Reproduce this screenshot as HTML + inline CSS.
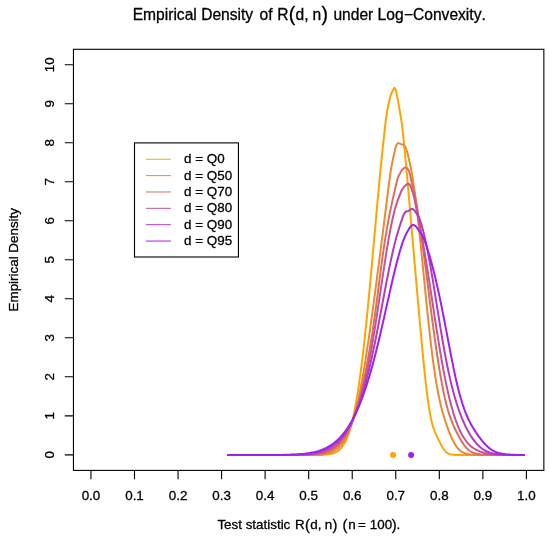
<!DOCTYPE html>
<html><head><meta charset="utf-8"><title>Empirical Density</title>
<style>html,body{margin:0;padding:0;background:#fff}svg{display:block}text{font-family:"Liberation Sans",Arial,Helvetica,sans-serif;fill:#000;stroke:#000;stroke-width:0.3}</style></head>
<body>
<svg width="550" height="538" viewBox="0 0 550 538">
<rect x="0" y="0" width="550" height="538" fill="#fff"/>
<path d="M227.0,455.0 L228.0,455.0 L229.0,455.0 L230.0,455.0 L231.0,455.0 L232.0,455.0 L233.0,455.0 L234.0,455.0 L235.0,455.0 L236.0,455.0 L237.0,455.0 L238.0,455.0 L239.0,455.0 L240.0,455.0 L241.0,455.0 L242.0,455.0 L243.0,455.0 L244.0,455.0 L245.0,455.0 L246.0,455.0 L247.0,455.0 L248.0,455.0 L249.0,455.0 L250.0,455.0 L251.0,455.0 L252.0,455.0 L253.0,455.0 L254.0,455.0 L255.0,455.0 L256.0,455.0 L257.0,455.0 L258.0,455.0 L259.0,455.0 L260.0,455.0 L261.0,455.0 L262.0,455.0 L263.0,455.0 L264.0,455.0 L265.0,455.0 L266.0,455.0 L267.0,455.0 L268.0,455.0 L269.0,455.0 L270.0,455.0 L271.0,455.0 L272.0,455.0 L273.0,455.0 L274.0,455.0 L275.0,455.0 L276.0,455.0 L277.0,455.0 L278.0,455.0 L279.0,455.0 L280.0,455.0 L281.0,455.0 L282.0,455.0 L283.0,455.0 L284.0,455.0 L285.0,455.0 L286.0,455.0 L287.0,455.0 L288.0,455.0 L289.0,455.0 L290.0,455.0 L291.0,455.0 L292.0,455.0 L293.0,455.0 L294.0,455.0 L295.0,455.0 L296.0,455.0 L297.0,455.0 L298.0,455.0 L299.0,455.0 L300.0,455.0 L301.0,455.0 L302.0,455.0 L303.0,455.0 L304.0,455.0 L305.0,455.0 L306.0,455.0 L307.0,455.0 L308.0,455.0 L309.0,455.0 L310.0,455.0 L311.0,455.0 L312.0,455.0 L313.0,455.0 L314.0,455.0 L315.0,455.0 L316.0,455.0 L317.0,455.0 L318.0,454.9 L319.0,454.9 L320.0,454.9 L321.0,454.9 L322.0,454.9 L323.0,454.8 L324.0,454.8 L325.0,454.7 L326.0,454.6 L327.0,454.5 L328.0,454.4 L329.0,454.3 L330.0,454.1 L331.0,453.9 L332.0,453.7 L333.0,453.4 L334.0,453.0 L335.0,452.6 L336.0,452.1 L337.0,451.6 L338.0,450.9 L339.0,450.1 L340.0,449.2 L341.0,448.2 L342.0,447.0 L343.0,445.6 L344.0,444.0 L345.0,442.3 L346.0,440.2 L347.0,438.0 L348.0,435.4 L349.0,432.6 L350.0,429.4 L351.0,426.0 L352.0,422.1 L353.0,417.9 L354.0,413.3 L355.0,408.3 L356.0,402.9 L357.0,397.1 L358.0,390.8 L359.0,384.2 L360.0,377.1 L361.0,369.5 L362.0,361.6 L363.0,353.2 L364.0,344.5 L365.0,335.4 L366.0,325.9 L367.0,316.1 L368.0,306.0 L369.0,295.6 L370.0,285.0 L371.0,274.2 L372.0,263.2 L373.0,252.2 L374.0,241.0 L375.0,229.8 L376.0,218.6 L377.0,207.5 L378.0,196.5 L379.0,185.7 L380.0,175.1 L381.0,164.9 L382.0,154.9 L383.0,145.5 L384.0,136.3 L385.0,127.1 L386.0,118.7 L387.0,111.7 L388.0,106.4 L389.0,102.1 L390.0,97.8 L391.0,94.4 L392.0,92.0 L393.0,90.2 L394.0,88.1 L395.0,88.3 L396.0,90.6 L397.0,95.4 L398.0,101.1 L399.0,106.7 L400.0,112.2 L401.0,118.1 L402.0,124.9 L403.0,133.9 L404.0,143.7 L405.0,153.9 L406.0,164.5 L407.0,175.5 L408.0,186.8 L409.0,198.2 L410.0,209.7 L411.0,221.3 L412.0,232.8 L413.0,244.4 L414.0,255.9 L415.0,267.3 L416.0,278.7 L417.0,290.1 L418.0,301.4 L419.0,312.7 L420.0,323.9 L421.0,334.9 L422.0,345.7 L423.0,356.2 L424.0,366.3 L425.0,376.0 L426.0,385.0 L427.0,393.3 L428.0,400.9 L429.0,407.7 L430.0,413.5 L431.0,418.6 L432.0,422.9 L433.0,426.4 L434.0,429.5 L435.0,432.1 L436.0,434.4 L437.0,436.5 L438.0,438.6 L439.0,440.6 L440.0,442.6 L441.0,444.6 L442.0,446.4 L443.0,448.1 L444.0,449.6 L445.0,450.9 L446.0,451.9 L447.0,452.8 L448.0,453.4 L449.0,453.9 L450.0,454.2 L451.0,454.4 L452.0,454.6 L453.0,454.7 L454.0,454.8 L455.0,454.9 L456.0,454.9 L457.0,454.9 L458.0,454.9 L459.0,455.0 L460.0,455.0 L461.0,455.0 L462.0,455.0 L463.0,455.0 L464.0,455.0 L465.0,455.0 L466.0,455.0 L467.0,455.0 L468.0,455.0 L469.0,455.0 L470.0,455.0 L471.0,455.0 L472.0,455.0 L473.0,455.0 L474.0,455.0 L475.0,455.0 L476.0,455.0 L477.0,455.0 L478.0,455.0 L479.0,455.0 L480.0,455.0 L481.0,455.0 L482.0,455.0 L483.0,455.0 L484.0,455.0 L485.0,455.0 L486.0,455.0 L487.0,455.0 L488.0,455.0 L489.0,455.0 L490.0,455.0 L491.0,455.0 L492.0,455.0 L493.0,455.0 L494.0,455.0 L495.0,455.0 L496.0,455.0 L497.0,455.0 L498.0,455.0 L499.0,455.0 L500.0,455.0 L501.0,455.0 L502.0,455.0 L503.0,455.0 L504.0,455.0 L505.0,455.0 L506.0,455.0 L507.0,455.0 L508.0,455.0 L509.0,455.0 L510.0,455.0 L511.0,455.0 L512.0,455.0 L513.0,455.0 L514.0,455.0 L515.0,455.0 L516.0,455.0 L517.0,455.0 L518.0,455.0 L519.0,455.0 L520.0,455.0 L521.0,455.0 L522.0,455.0 L523.0,455.0 L524.0,455.0 L525.0,455.0" fill="none" stroke="#FFA500" stroke-width="2" stroke-linejoin="round" stroke-linecap="butt"/>
<path d="M227.0,455.0 L228.0,455.0 L229.0,455.0 L230.0,455.0 L231.0,455.0 L232.0,455.0 L233.0,455.0 L234.0,455.0 L235.0,455.0 L236.0,455.0 L237.0,455.0 L238.0,455.0 L239.0,455.0 L240.0,455.0 L241.0,455.0 L242.0,455.0 L243.0,455.0 L244.0,455.0 L245.0,455.0 L246.0,455.0 L247.0,455.0 L248.0,455.0 L249.0,455.0 L250.0,455.0 L251.0,455.0 L252.0,455.0 L253.0,455.0 L254.0,455.0 L255.0,455.0 L256.0,455.0 L257.0,455.0 L258.0,455.0 L259.0,455.0 L260.0,455.0 L261.0,455.0 L262.0,455.0 L263.0,455.0 L264.0,455.0 L265.0,455.0 L266.0,455.0 L267.0,455.0 L268.0,455.0 L269.0,455.0 L270.0,455.0 L271.0,455.0 L272.0,455.0 L273.0,455.0 L274.0,455.0 L275.0,455.0 L276.0,455.0 L277.0,455.0 L278.0,455.0 L279.0,455.0 L280.0,455.0 L281.0,455.0 L282.0,455.0 L283.0,455.0 L284.0,455.0 L285.0,455.0 L286.0,455.0 L287.0,455.0 L288.0,455.0 L289.0,455.0 L290.0,455.0 L291.0,455.0 L292.0,455.0 L293.0,455.0 L294.0,455.0 L295.0,455.0 L296.0,455.0 L297.0,455.0 L298.0,455.0 L299.0,455.0 L300.0,455.0 L301.0,455.0 L302.0,455.0 L303.0,455.0 L304.0,455.0 L305.0,455.0 L306.0,455.0 L307.0,455.0 L308.0,454.9 L309.0,454.9 L310.0,454.9 L311.0,454.9 L312.0,454.9 L313.0,454.9 L314.0,454.8 L315.0,454.8 L316.0,454.8 L317.0,454.7 L318.0,454.6 L319.0,454.6 L320.0,454.5 L321.0,454.4 L322.0,454.3 L323.0,454.2 L324.0,454.1 L325.0,453.9 L326.0,453.7 L327.0,453.5 L328.0,453.3 L329.0,453.0 L330.0,452.7 L331.0,452.3 L332.0,451.9 L333.0,451.5 L334.0,451.0 L335.0,450.4 L336.0,449.7 L337.0,449.0 L338.0,448.2 L339.0,447.3 L340.0,446.3 L341.0,445.2 L342.0,443.9 L343.0,442.6 L344.0,441.1 L345.0,439.4 L346.0,437.6 L347.0,435.7 L348.0,433.5 L349.0,431.2 L350.0,428.7 L351.0,425.9 L352.0,423.0 L353.0,419.8 L354.0,416.5 L355.0,412.8 L356.0,409.0 L357.0,404.9 L358.0,400.5 L359.0,395.9 L360.0,391.1 L361.0,386.0 L362.0,380.6 L363.0,375.0 L364.0,369.2 L365.0,363.1 L366.0,356.9 L367.0,350.4 L368.0,343.7 L369.0,336.8 L370.0,329.8 L371.0,322.6 L372.0,315.3 L373.0,307.9 L374.0,300.4 L375.0,292.9 L376.0,285.3 L377.0,277.6 L378.0,269.9 L379.0,262.3 L380.0,254.6 L381.0,246.9 L382.0,239.1 L383.0,231.3 L384.0,223.4 L385.0,215.5 L386.0,207.4 L387.0,199.4 L388.0,191.4 L389.0,183.5 L390.0,176.1 L391.0,169.2 L392.0,163.6 L393.0,158.9 L394.0,154.4 L395.0,150.0 L396.0,145.9 L397.0,144.1 L398.0,143.2 L399.0,143.2 L400.0,143.7 L401.0,144.2 L402.0,144.4 L403.0,144.5 L404.0,145.0 L405.0,146.3 L406.0,148.6 L407.0,151.5 L408.0,155.1 L409.0,159.6 L410.0,164.0 L411.0,168.6 L412.0,174.1 L413.0,180.3 L414.0,187.2 L415.0,194.5 L416.0,202.5 L417.0,210.8 L418.0,219.6 L419.0,228.8 L420.0,238.3 L421.0,248.1 L422.0,258.0 L423.0,268.1 L424.0,278.2 L425.0,288.2 L426.0,298.2 L427.0,308.0 L428.0,317.6 L429.0,327.0 L430.0,336.0 L431.0,344.6 L432.0,352.8 L433.0,360.5 L434.0,367.8 L435.0,374.6 L436.0,380.9 L437.0,386.8 L438.0,392.2 L439.0,397.2 L440.0,401.7 L441.0,406.0 L442.0,409.9 L443.0,413.6 L444.0,417.0 L445.0,420.2 L446.0,423.3 L447.0,426.2 L448.0,428.9 L449.0,431.6 L450.0,434.0 L451.0,436.4 L452.0,438.6 L453.0,440.7 L454.0,442.6 L455.0,444.3 L456.0,445.9 L457.0,447.3 L458.0,448.5 L459.0,449.5 L460.0,450.5 L461.0,451.2 L462.0,451.9 L463.0,452.5 L464.0,452.9 L465.0,453.3 L466.0,453.6 L467.0,453.8 L468.0,454.1 L469.0,454.2 L470.0,454.4 L471.0,454.5 L472.0,454.6 L473.0,454.6 L474.0,454.7 L475.0,454.8 L476.0,454.8 L477.0,454.8 L478.0,454.9 L479.0,454.9 L480.0,454.9 L481.0,454.9 L482.0,454.9 L483.0,454.9 L484.0,455.0 L485.0,455.0 L486.0,455.0 L487.0,455.0 L488.0,455.0 L489.0,455.0 L490.0,455.0 L491.0,455.0 L492.0,455.0 L493.0,455.0 L494.0,455.0 L495.0,455.0 L496.0,455.0 L497.0,455.0 L498.0,455.0 L499.0,455.0 L500.0,455.0 L501.0,455.0 L502.0,455.0 L503.0,455.0 L504.0,455.0 L505.0,455.0 L506.0,455.0 L507.0,455.0 L508.0,455.0 L509.0,455.0 L510.0,455.0 L511.0,455.0 L512.0,455.0 L513.0,455.0 L514.0,455.0 L515.0,455.0 L516.0,455.0 L517.0,455.0 L518.0,455.0 L519.0,455.0 L520.0,455.0 L521.0,455.0 L522.0,455.0 L523.0,455.0 L524.0,455.0 L525.0,455.0" fill="none" stroke="#EC8A30" stroke-width="2" stroke-linejoin="round" stroke-linecap="butt"/>
<path d="M227.0,455.0 L228.0,455.0 L229.0,455.0 L230.0,455.0 L231.0,455.0 L232.0,455.0 L233.0,455.0 L234.0,455.0 L235.0,455.0 L236.0,455.0 L237.0,455.0 L238.0,455.0 L239.0,455.0 L240.0,455.0 L241.0,455.0 L242.0,455.0 L243.0,455.0 L244.0,455.0 L245.0,455.0 L246.0,455.0 L247.0,455.0 L248.0,455.0 L249.0,455.0 L250.0,455.0 L251.0,455.0 L252.0,455.0 L253.0,455.0 L254.0,455.0 L255.0,455.0 L256.0,455.0 L257.0,455.0 L258.0,455.0 L259.0,455.0 L260.0,455.0 L261.0,455.0 L262.0,455.0 L263.0,455.0 L264.0,455.0 L265.0,455.0 L266.0,455.0 L267.0,455.0 L268.0,455.0 L269.0,455.0 L270.0,455.0 L271.0,455.0 L272.0,455.0 L273.0,455.0 L274.0,455.0 L275.0,455.0 L276.0,455.0 L277.0,455.0 L278.0,455.0 L279.0,455.0 L280.0,455.0 L281.0,455.0 L282.0,455.0 L283.0,455.0 L284.0,455.0 L285.0,455.0 L286.0,455.0 L287.0,455.0 L288.0,455.0 L289.0,455.0 L290.0,455.0 L291.0,455.0 L292.0,455.0 L293.0,455.0 L294.0,455.0 L295.0,455.0 L296.0,455.0 L297.0,455.0 L298.0,455.0 L299.0,454.9 L300.0,454.9 L301.0,454.9 L302.0,454.9 L303.0,454.9 L304.0,454.9 L305.0,454.9 L306.0,454.8 L307.0,454.8 L308.0,454.8 L309.0,454.7 L310.0,454.7 L311.0,454.6 L312.0,454.6 L313.0,454.5 L314.0,454.5 L315.0,454.4 L316.0,454.3 L317.0,454.2 L318.0,454.1 L319.0,453.9 L320.0,453.8 L321.0,453.6 L322.0,453.4 L323.0,453.2 L324.0,453.0 L325.0,452.7 L326.0,452.4 L327.0,452.1 L328.0,451.8 L329.0,451.4 L330.0,450.9 L331.0,450.5 L332.0,449.9 L333.0,449.3 L334.0,448.7 L335.0,448.0 L336.0,447.3 L337.0,446.4 L338.0,445.5 L339.0,444.6 L340.0,443.5 L341.0,442.3 L342.0,441.1 L343.0,439.8 L344.0,438.3 L345.0,436.8 L346.0,435.1 L347.0,433.3 L348.0,431.4 L349.0,429.3 L350.0,427.1 L351.0,424.8 L352.0,422.3 L353.0,419.7 L354.0,416.9 L355.0,413.9 L356.0,410.8 L357.0,407.5 L358.0,404.1 L359.0,400.4 L360.0,396.6 L361.0,392.6 L362.0,388.3 L363.0,384.0 L364.0,379.4 L365.0,374.6 L366.0,369.6 L367.0,364.4 L368.0,359.0 L369.0,353.4 L370.0,347.6 L371.0,341.5 L372.0,335.2 L373.0,328.6 L374.0,321.7 L375.0,314.6 L376.0,307.2 L377.0,299.6 L378.0,291.8 L379.0,284.0 L380.0,276.1 L381.0,268.4 L382.0,260.9 L383.0,253.6 L384.0,246.7 L385.0,240.1 L386.0,233.9 L387.0,228.1 L388.0,222.5 L389.0,217.3 L390.0,212.2 L391.0,207.4 L392.0,202.7 L393.0,198.1 L394.0,193.8 L395.0,189.4 L396.0,185.0 L397.0,180.8 L398.0,177.5 L399.0,175.2 L400.0,173.4 L401.0,171.5 L402.0,170.0 L403.0,168.9 L404.0,168.1 L405.0,167.6 L406.0,167.6 L407.0,168.1 L408.0,169.3 L409.0,171.2 L410.0,174.4 L411.0,179.2 L412.0,183.9 L413.0,187.9 L414.0,191.3 L415.0,195.6 L416.0,200.9 L417.0,206.7 L418.0,212.8 L419.0,219.3 L420.0,226.1 L421.0,233.1 L422.0,240.4 L423.0,247.8 L424.0,255.4 L425.0,263.2 L426.0,271.0 L427.0,278.9 L428.0,286.8 L429.0,294.7 L430.0,302.5 L431.0,310.3 L432.0,318.0 L433.0,325.5 L434.0,332.9 L435.0,340.1 L436.0,347.1 L437.0,353.9 L438.0,360.5 L439.0,366.8 L440.0,372.8 L441.0,378.6 L442.0,384.1 L443.0,389.2 L444.0,394.1 L445.0,398.6 L446.0,402.8 L447.0,406.7 L448.0,410.3 L449.0,413.6 L450.0,416.6 L451.0,419.4 L452.0,422.0 L453.0,424.4 L454.0,426.7 L455.0,428.8 L456.0,430.9 L457.0,432.9 L458.0,434.8 L459.0,436.7 L460.0,438.5 L461.0,440.2 L462.0,441.9 L463.0,443.4 L464.0,444.9 L465.0,446.2 L466.0,447.4 L467.0,448.5 L468.0,449.4 L469.0,450.3 L470.0,451.0 L471.0,451.6 L472.0,452.1 L473.0,452.6 L474.0,453.0 L475.0,453.3 L476.0,453.5 L477.0,453.8 L478.0,454.0 L479.0,454.1 L480.0,454.3 L481.0,454.4 L482.0,454.5 L483.0,454.5 L484.0,454.6 L485.0,454.7 L486.0,454.7 L487.0,454.8 L488.0,454.8 L489.0,454.8 L490.0,454.9 L491.0,454.9 L492.0,454.9 L493.0,454.9 L494.0,454.9 L495.0,454.9 L496.0,455.0 L497.0,455.0 L498.0,455.0 L499.0,455.0 L500.0,455.0 L501.0,455.0 L502.0,455.0 L503.0,455.0 L504.0,455.0 L505.0,455.0 L506.0,455.0 L507.0,455.0 L508.0,455.0 L509.0,455.0 L510.0,455.0 L511.0,455.0 L512.0,455.0 L513.0,455.0 L514.0,455.0 L515.0,455.0 L516.0,455.0 L517.0,455.0 L518.0,455.0 L519.0,455.0 L520.0,455.0 L521.0,455.0 L522.0,455.0 L523.0,455.0 L524.0,455.0 L525.0,455.0" fill="none" stroke="#D97060" stroke-width="2" stroke-linejoin="round" stroke-linecap="butt"/>
<path d="M227.0,455.0 L228.0,455.0 L229.0,455.0 L230.0,455.0 L231.0,455.0 L232.0,455.0 L233.0,455.0 L234.0,455.0 L235.0,455.0 L236.0,455.0 L237.0,455.0 L238.0,455.0 L239.0,455.0 L240.0,455.0 L241.0,455.0 L242.0,455.0 L243.0,455.0 L244.0,455.0 L245.0,455.0 L246.0,455.0 L247.0,455.0 L248.0,455.0 L249.0,455.0 L250.0,455.0 L251.0,455.0 L252.0,455.0 L253.0,455.0 L254.0,455.0 L255.0,455.0 L256.0,455.0 L257.0,455.0 L258.0,455.0 L259.0,455.0 L260.0,455.0 L261.0,455.0 L262.0,455.0 L263.0,455.0 L264.0,455.0 L265.0,455.0 L266.0,455.0 L267.0,455.0 L268.0,455.0 L269.0,455.0 L270.0,455.0 L271.0,455.0 L272.0,455.0 L273.0,455.0 L274.0,455.0 L275.0,455.0 L276.0,455.0 L277.0,455.0 L278.0,455.0 L279.0,455.0 L280.0,455.0 L281.0,455.0 L282.0,455.0 L283.0,455.0 L284.0,455.0 L285.0,455.0 L286.0,455.0 L287.0,455.0 L288.0,455.0 L289.0,455.0 L290.0,455.0 L291.0,454.9 L292.0,454.9 L293.0,454.9 L294.0,454.9 L295.0,454.9 L296.0,454.9 L297.0,454.9 L298.0,454.9 L299.0,454.8 L300.0,454.8 L301.0,454.8 L302.0,454.8 L303.0,454.7 L304.0,454.7 L305.0,454.6 L306.0,454.6 L307.0,454.5 L308.0,454.5 L309.0,454.4 L310.0,454.3 L311.0,454.3 L312.0,454.2 L313.0,454.1 L314.0,454.0 L315.0,453.8 L316.0,453.7 L317.0,453.5 L318.0,453.4 L319.0,453.2 L320.0,453.0 L321.0,452.7 L322.0,452.5 L323.0,452.2 L324.0,451.9 L325.0,451.5 L326.0,451.2 L327.0,450.8 L328.0,450.4 L329.0,449.9 L330.0,449.4 L331.0,448.8 L332.0,448.2 L333.0,447.6 L334.0,446.9 L335.0,446.1 L336.0,445.3 L337.0,444.4 L338.0,443.5 L339.0,442.5 L340.0,441.4 L341.0,440.2 L342.0,439.0 L343.0,437.7 L344.0,436.3 L345.0,434.8 L346.0,433.3 L347.0,431.6 L348.0,429.8 L349.0,428.0 L350.0,426.0 L351.0,423.9 L352.0,421.7 L353.0,419.4 L354.0,416.9 L355.0,414.4 L356.0,411.7 L357.0,408.8 L358.0,405.8 L359.0,402.7 L360.0,399.4 L361.0,396.0 L362.0,392.3 L363.0,388.5 L364.0,384.5 L365.0,380.3 L366.0,376.0 L367.0,371.4 L368.0,366.6 L369.0,361.6 L370.0,356.4 L371.0,351.0 L372.0,345.4 L373.0,339.6 L374.0,333.6 L375.0,327.5 L376.0,321.1 L377.0,314.7 L378.0,308.1 L379.0,301.4 L380.0,294.7 L381.0,287.9 L382.0,281.2 L383.0,274.4 L384.0,267.8 L385.0,261.3 L386.0,254.9 L387.0,248.7 L388.0,242.7 L389.0,237.0 L390.0,231.5 L391.0,226.4 L392.0,221.5 L393.0,217.0 L394.0,212.9 L395.0,209.1 L396.0,205.6 L397.0,202.5 L398.0,199.7 L399.0,197.1 L400.0,194.3 L401.0,191.8 L402.0,189.8 L403.0,188.3 L404.0,187.0 L405.0,185.9 L406.0,184.9 L407.0,184.1 L408.0,183.7 L409.0,184.0 L410.0,185.0 L411.0,187.1 L412.0,190.2 L413.0,193.3 L414.0,197.1 L415.0,201.6 L416.0,206.2 L417.0,211.2 L418.0,216.2 L419.0,221.4 L420.0,226.7 L421.0,232.1 L422.0,237.5 L423.0,243.1 L424.0,248.9 L425.0,254.7 L426.0,260.8 L427.0,266.9 L428.0,273.2 L429.0,279.6 L430.0,286.1 L431.0,292.6 L432.0,299.2 L433.0,305.8 L434.0,312.4 L435.0,319.0 L436.0,325.5 L437.0,331.9 L438.0,338.2 L439.0,344.4 L440.0,350.4 L441.0,356.3 L442.0,362.0 L443.0,367.6 L444.0,373.0 L445.0,378.1 L446.0,383.1 L447.0,387.8 L448.0,392.3 L449.0,396.7 L450.0,400.8 L451.0,404.6 L452.0,408.3 L453.0,411.8 L454.0,415.1 L455.0,418.1 L456.0,421.0 L457.0,423.7 L458.0,426.2 L459.0,428.6 L460.0,430.7 L461.0,432.8 L462.0,434.7 L463.0,436.4 L464.0,438.0 L465.0,439.5 L466.0,440.9 L467.0,442.1 L468.0,443.3 L469.0,444.4 L470.0,445.4 L471.0,446.3 L472.0,447.1 L473.0,447.8 L474.0,448.5 L475.0,449.1 L476.0,449.7 L477.0,450.2 L478.0,450.7 L479.0,451.1 L480.0,451.5 L481.0,451.9 L482.0,452.2 L483.0,452.5 L484.0,452.7 L485.0,453.0 L486.0,453.2 L487.0,453.4 L488.0,453.6 L489.0,453.7 L490.0,453.9 L491.0,454.0 L492.0,454.1 L493.0,454.2 L494.0,454.3 L495.0,454.4 L496.0,454.4 L497.0,454.5 L498.0,454.6 L499.0,454.6 L500.0,454.7 L501.0,454.7 L502.0,454.7 L503.0,454.8 L504.0,454.8 L505.0,454.8 L506.0,454.9 L507.0,454.9 L508.0,454.9 L509.0,454.9 L510.0,454.9 L511.0,454.9 L512.0,454.9 L513.0,454.9 L514.0,455.0 L515.0,455.0 L516.0,455.0 L517.0,455.0 L518.0,455.0 L519.0,455.0 L520.0,455.0 L521.0,455.0 L522.0,455.0 L523.0,455.0 L524.0,455.0 L525.0,455.0" fill="none" stroke="#C65590" stroke-width="2" stroke-linejoin="round" stroke-linecap="butt"/>
<path d="M227.0,455.0 L228.0,455.0 L229.0,455.0 L230.0,455.0 L231.0,455.0 L232.0,455.0 L233.0,455.0 L234.0,455.0 L235.0,455.0 L236.0,455.0 L237.0,455.0 L238.0,455.0 L239.0,455.0 L240.0,455.0 L241.0,455.0 L242.0,455.0 L243.0,455.0 L244.0,455.0 L245.0,455.0 L246.0,455.0 L247.0,455.0 L248.0,455.0 L249.0,455.0 L250.0,455.0 L251.0,455.0 L252.0,455.0 L253.0,455.0 L254.0,455.0 L255.0,455.0 L256.0,455.0 L257.0,455.0 L258.0,455.0 L259.0,455.0 L260.0,455.0 L261.0,455.0 L262.0,455.0 L263.0,455.0 L264.0,455.0 L265.0,455.0 L266.0,455.0 L267.0,455.0 L268.0,455.0 L269.0,455.0 L270.0,455.0 L271.0,455.0 L272.0,455.0 L273.0,455.0 L274.0,455.0 L275.0,455.0 L276.0,455.0 L277.0,455.0 L278.0,455.0 L279.0,455.0 L280.0,455.0 L281.0,455.0 L282.0,454.9 L283.0,454.9 L284.0,454.9 L285.0,454.9 L286.0,454.9 L287.0,454.9 L288.0,454.9 L289.0,454.9 L290.0,454.9 L291.0,454.8 L292.0,454.8 L293.0,454.8 L294.0,454.8 L295.0,454.7 L296.0,454.7 L297.0,454.7 L298.0,454.6 L299.0,454.6 L300.0,454.5 L301.0,454.5 L302.0,454.4 L303.0,454.4 L304.0,454.3 L305.0,454.2 L306.0,454.1 L307.0,454.0 L308.0,453.9 L309.0,453.8 L310.0,453.7 L311.0,453.5 L312.0,453.4 L313.0,453.2 L314.0,453.1 L315.0,452.9 L316.0,452.7 L317.0,452.4 L318.0,452.2 L319.0,451.9 L320.0,451.7 L321.0,451.4 L322.0,451.0 L323.0,450.7 L324.0,450.3 L325.0,449.9 L326.0,449.5 L327.0,449.0 L328.0,448.5 L329.0,448.0 L330.0,447.4 L331.0,446.8 L332.0,446.2 L333.0,445.5 L334.0,444.8 L335.0,444.0 L336.0,443.2 L337.0,442.3 L338.0,441.4 L339.0,440.4 L340.0,439.4 L341.0,438.3 L342.0,437.1 L343.0,435.9 L344.0,434.6 L345.0,433.3 L346.0,431.8 L347.0,430.3 L348.0,428.7 L349.0,427.0 L350.0,425.3 L351.0,423.4 L352.0,421.4 L353.0,419.4 L354.0,417.2 L355.0,414.9 L356.0,412.5 L357.0,410.0 L358.0,407.4 L359.0,404.6 L360.0,401.8 L361.0,398.8 L362.0,395.6 L363.0,392.3 L364.0,388.9 L365.0,385.3 L366.0,381.6 L367.0,377.8 L368.0,373.8 L369.0,369.7 L370.0,365.4 L371.0,361.0 L372.0,356.5 L373.0,351.8 L374.0,347.0 L375.0,342.2 L376.0,337.2 L377.0,332.1 L378.0,327.0 L379.0,321.7 L380.0,316.5 L381.0,311.2 L382.0,305.9 L383.0,300.5 L384.0,295.2 L385.0,289.9 L386.0,284.7 L387.0,279.5 L388.0,274.4 L389.0,269.4 L390.0,264.5 L391.0,259.8 L392.0,255.2 L393.0,250.8 L394.0,246.5 L395.0,242.5 L396.0,238.6 L397.0,235.0 L398.0,231.8 L399.0,228.5 L400.0,225.3 L401.0,222.2 L402.0,219.2 L403.0,216.4 L404.0,214.0 L405.0,212.4 L406.0,211.6 L407.0,211.3 L408.0,211.2 L409.0,210.5 L410.0,209.8 L411.0,209.2 L412.0,208.9 L413.0,209.3 L414.0,210.0 L415.0,211.2 L416.0,212.7 L417.0,214.1 L418.0,215.5 L419.0,217.6 L420.0,220.1 L421.0,223.0 L422.0,226.5 L423.0,230.3 L424.0,234.3 L425.0,238.6 L426.0,243.1 L427.0,247.9 L428.0,252.9 L429.0,258.2 L430.0,263.8 L431.0,269.5 L432.0,275.4 L433.0,281.4 L434.0,287.6 L435.0,293.8 L436.0,300.1 L437.0,306.4 L438.0,312.7 L439.0,319.0 L440.0,325.1 L441.0,331.2 L442.0,337.2 L443.0,343.0 L444.0,348.6 L445.0,354.1 L446.0,359.4 L447.0,364.5 L448.0,369.3 L449.0,374.0 L450.0,378.5 L451.0,382.8 L452.0,386.8 L453.0,390.7 L454.0,394.4 L455.0,397.9 L456.0,401.3 L457.0,404.5 L458.0,407.5 L459.0,410.4 L460.0,413.1 L461.0,415.8 L462.0,418.3 L463.0,420.6 L464.0,422.9 L465.0,425.1 L466.0,427.2 L467.0,429.1 L468.0,431.0 L469.0,432.8 L470.0,434.5 L471.0,436.1 L472.0,437.6 L473.0,439.1 L474.0,440.4 L475.0,441.7 L476.0,442.9 L477.0,444.0 L478.0,445.1 L479.0,446.0 L480.0,446.9 L481.0,447.8 L482.0,448.5 L483.0,449.2 L484.0,449.9 L485.0,450.5 L486.0,451.0 L487.0,451.5 L488.0,451.9 L489.0,452.3 L490.0,452.6 L491.0,452.9 L492.0,453.2 L493.0,453.5 L494.0,453.7 L495.0,453.9 L496.0,454.0 L497.0,454.2 L498.0,454.3 L499.0,454.4 L500.0,454.5 L501.0,454.6 L502.0,454.6 L503.0,454.7 L504.0,454.7 L505.0,454.8 L506.0,454.8 L507.0,454.9 L508.0,454.9 L509.0,454.9 L510.0,454.9 L511.0,454.9 L512.0,454.9 L513.0,455.0 L514.0,455.0 L515.0,455.0 L516.0,455.0 L517.0,455.0 L518.0,455.0 L519.0,455.0 L520.0,455.0 L521.0,455.0 L522.0,455.0 L523.0,455.0 L524.0,455.0 L525.0,455.0" fill="none" stroke="#B33BC0" stroke-width="2" stroke-linejoin="round" stroke-linecap="butt"/>
<path d="M227.0,455.0 L228.0,455.0 L229.0,455.0 L230.0,455.0 L231.0,455.0 L232.0,455.0 L233.0,455.0 L234.0,455.0 L235.0,455.0 L236.0,455.0 L237.0,455.0 L238.0,455.0 L239.0,455.0 L240.0,455.0 L241.0,455.0 L242.0,455.0 L243.0,455.0 L244.0,455.0 L245.0,455.0 L246.0,455.0 L247.0,455.0 L248.0,455.0 L249.0,455.0 L250.0,455.0 L251.0,455.0 L252.0,455.0 L253.0,455.0 L254.0,455.0 L255.0,455.0 L256.0,455.0 L257.0,455.0 L258.0,455.0 L259.0,455.0 L260.0,455.0 L261.0,455.0 L262.0,455.0 L263.0,455.0 L264.0,455.0 L265.0,455.0 L266.0,455.0 L267.0,455.0 L268.0,455.0 L269.0,455.0 L270.0,455.0 L271.0,455.0 L272.0,455.0 L273.0,455.0 L274.0,455.0 L275.0,454.9 L276.0,454.9 L277.0,454.9 L278.0,454.9 L279.0,454.9 L280.0,454.9 L281.0,454.9 L282.0,454.9 L283.0,454.9 L284.0,454.8 L285.0,454.8 L286.0,454.8 L287.0,454.8 L288.0,454.8 L289.0,454.7 L290.0,454.7 L291.0,454.7 L292.0,454.6 L293.0,454.6 L294.0,454.6 L295.0,454.5 L296.0,454.5 L297.0,454.4 L298.0,454.3 L299.0,454.3 L300.0,454.2 L301.0,454.1 L302.0,454.0 L303.0,453.9 L304.0,453.8 L305.0,453.7 L306.0,453.6 L307.0,453.5 L308.0,453.3 L309.0,453.2 L310.0,453.0 L311.0,452.8 L312.0,452.6 L313.0,452.4 L314.0,452.2 L315.0,452.0 L316.0,451.7 L317.0,451.5 L318.0,451.2 L319.0,450.9 L320.0,450.5 L321.0,450.2 L322.0,449.8 L323.0,449.4 L324.0,449.0 L325.0,448.5 L326.0,448.1 L327.0,447.5 L328.0,447.0 L329.0,446.4 L330.0,445.8 L331.0,445.2 L332.0,444.5 L333.0,443.8 L334.0,443.0 L335.0,442.2 L336.0,441.4 L337.0,440.5 L338.0,439.6 L339.0,438.6 L340.0,437.6 L341.0,436.5 L342.0,435.4 L343.0,434.2 L344.0,432.9 L345.0,431.6 L346.0,430.3 L347.0,428.8 L348.0,427.3 L349.0,425.8 L350.0,424.1 L351.0,422.4 L352.0,420.7 L353.0,418.8 L354.0,416.9 L355.0,414.9 L356.0,412.8 L357.0,410.6 L358.0,408.4 L359.0,406.0 L360.0,403.6 L361.0,401.0 L362.0,398.4 L363.0,395.7 L364.0,392.9 L365.0,390.0 L366.0,387.0 L367.0,383.9 L368.0,380.7 L369.0,377.4 L370.0,374.0 L371.0,370.6 L372.0,367.0 L373.0,363.3 L374.0,359.6 L375.0,355.7 L376.0,351.8 L377.0,347.8 L378.0,343.7 L379.0,339.5 L380.0,335.3 L381.0,331.0 L382.0,326.7 L383.0,322.3 L384.0,317.9 L385.0,313.4 L386.0,308.9 L387.0,304.4 L388.0,300.0 L389.0,295.5 L390.0,291.1 L391.0,286.7 L392.0,282.3 L393.0,278.0 L394.0,273.8 L395.0,269.7 L396.0,265.6 L397.0,261.7 L398.0,257.9 L399.0,254.3 L400.0,250.8 L401.0,247.5 L402.0,244.4 L403.0,241.5 L404.0,238.8 L405.0,236.4 L406.0,234.3 L407.0,232.4 L408.0,230.5 L409.0,228.8 L410.0,227.4 L411.0,226.2 L412.0,225.4 L413.0,225.0 L414.0,225.1 L415.0,225.6 L416.0,226.6 L417.0,227.8 L418.0,229.3 L419.0,230.8 L420.0,232.1 L421.0,233.4 L422.0,234.9 L423.0,236.8 L424.0,239.2 L425.0,241.8 L426.0,244.6 L427.0,247.6 L428.0,250.7 L429.0,254.0 L430.0,257.4 L431.0,261.0 L432.0,264.7 L433.0,268.6 L434.0,272.5 L435.0,276.6 L436.0,280.8 L437.0,285.2 L438.0,289.6 L439.0,294.2 L440.0,298.9 L441.0,303.7 L442.0,308.6 L443.0,313.6 L444.0,318.7 L445.0,323.9 L446.0,329.1 L447.0,334.4 L448.0,339.7 L449.0,344.9 L450.0,350.2 L451.0,355.3 L452.0,360.4 L453.0,365.4 L454.0,370.3 L455.0,375.0 L456.0,379.5 L457.0,383.8 L458.0,388.0 L459.0,391.9 L460.0,395.6 L461.0,399.1 L462.0,402.4 L463.0,405.5 L464.0,408.4 L465.0,411.1 L466.0,413.7 L467.0,416.0 L468.0,418.3 L469.0,420.4 L470.0,422.3 L471.0,424.2 L472.0,426.0 L473.0,427.7 L474.0,429.3 L475.0,430.9 L476.0,432.5 L477.0,433.9 L478.0,435.4 L479.0,436.8 L480.0,438.1 L481.0,439.4 L482.0,440.7 L483.0,441.9 L484.0,443.0 L485.0,444.1 L486.0,445.2 L487.0,446.1 L488.0,447.0 L489.0,447.9 L490.0,448.7 L491.0,449.4 L492.0,450.1 L493.0,450.7 L494.0,451.2 L495.0,451.7 L496.0,452.1 L497.0,452.5 L498.0,452.8 L499.0,453.1 L500.0,453.4 L501.0,453.6 L502.0,453.8 L503.0,454.0 L504.0,454.1 L505.0,454.2 L506.0,454.4 L507.0,454.4 L508.0,454.5 L509.0,454.6 L510.0,454.6 L511.0,454.7 L512.0,454.7 L513.0,454.8 L514.0,454.8 L515.0,454.8 L516.0,454.9 L517.0,454.9 L518.0,454.9 L519.0,454.9 L520.0,454.9 L521.0,454.9 L522.0,454.9 L523.0,454.9 L524.0,455.0 L525.0,455.0" fill="none" stroke="#A020F0" stroke-width="2" stroke-linejoin="round" stroke-linecap="butt"/>
<circle cx="393.0" cy="454.95" r="3.0" fill="#FFA500"/>
<circle cx="411.1" cy="454.95" r="3.0" fill="#A020F0"/>
<rect x="73.45" y="49.3" width="470.40" height="421.10" fill="none" stroke="#000" stroke-width="1.1"/>
<path d="M90.95,470.4 V479.2 M134.50,470.4 V479.2 M178.04,470.4 V479.2 M221.58,470.4 V479.2 M265.13,470.4 V479.2 M308.68,470.4 V479.2 M352.22,470.4 V479.2 M395.76,470.4 V479.2 M439.31,470.4 V479.2 M482.86,470.4 V479.2 M526.40,470.4 V479.2 M73.45,454.85 H64.8 M73.45,415.84 H64.8 M73.45,376.82 H64.8 M73.45,337.81 H64.8 M73.45,298.79 H64.8 M73.45,259.78 H64.8 M73.45,220.76 H64.8 M73.45,181.75 H64.8 M73.45,142.73 H64.8 M73.45,103.72 H64.8 M73.45,64.70 H64.8" fill="none" stroke="#000" stroke-width="1.1"/>
<text x="90.95" y="500" font-size="13.4" text-anchor="middle">0.0</text>
<text x="134.50" y="500" font-size="13.4" text-anchor="middle">0.1</text>
<text x="178.04" y="500" font-size="13.4" text-anchor="middle">0.2</text>
<text x="221.58" y="500" font-size="13.4" text-anchor="middle">0.3</text>
<text x="265.13" y="500" font-size="13.4" text-anchor="middle">0.4</text>
<text x="308.68" y="500" font-size="13.4" text-anchor="middle">0.5</text>
<text x="352.22" y="500" font-size="13.4" text-anchor="middle">0.6</text>
<text x="395.76" y="500" font-size="13.4" text-anchor="middle">0.7</text>
<text x="439.31" y="500" font-size="13.4" text-anchor="middle">0.8</text>
<text x="482.86" y="500" font-size="13.4" text-anchor="middle">0.9</text>
<text x="526.40" y="500" font-size="13.4" text-anchor="middle">1.0</text>
<text transform="translate(54,454.85) rotate(-90)" font-size="13.4" text-anchor="middle">0</text>
<text transform="translate(54,415.84) rotate(-90)" font-size="13.4" text-anchor="middle">1</text>
<text transform="translate(54,376.82) rotate(-90)" font-size="13.4" text-anchor="middle">2</text>
<text transform="translate(54,337.81) rotate(-90)" font-size="13.4" text-anchor="middle">3</text>
<text transform="translate(54,298.79) rotate(-90)" font-size="13.4" text-anchor="middle">4</text>
<text transform="translate(54,259.78) rotate(-90)" font-size="13.4" text-anchor="middle">5</text>
<text transform="translate(54,220.76) rotate(-90)" font-size="13.4" text-anchor="middle">6</text>
<text transform="translate(54,181.75) rotate(-90)" font-size="13.4" text-anchor="middle">7</text>
<text transform="translate(54,142.73) rotate(-90)" font-size="13.4" text-anchor="middle">8</text>
<text transform="translate(54,103.72) rotate(-90)" font-size="13.4" text-anchor="middle">9</text>
<text transform="translate(54,64.70) rotate(-90)" font-size="13.4" text-anchor="middle">10</text>
<text transform="translate(17.7,259.7) rotate(-90)" font-size="13.4" text-anchor="middle">Empirical Density</text>
<text x="217.40" y="529.3" font-size="13.4">Test statistic</text>
<text x="294.90" y="529.3" font-size="13.4">R</text>
<text x="304.90" y="530.0" font-size="14.7">(</text>
<text x="310.30" y="529.3" font-size="13.4">d,</text>
<text x="324.80" y="529.3" font-size="13.4">n</text>
<text x="332.40" y="530.0" font-size="14.7">)</text>
<text x="342.40" y="530.0" font-size="14.7">(</text>
<text x="348.20" y="529.3" font-size="13.4">n</text>
<text x="358.00" y="529.3" font-size="13.4">=</text>
<text x="369.80" y="529.3" font-size="13.4">100</text>
<text x="391.80" y="530.0" font-size="14.7">)</text>
<text x="396.50" y="529.3" font-size="13.4">.</text>
<text x="132.70" y="20.3" font-size="15.6">Empirical Density</text>
<text x="259.60" y="20.3" font-size="15.6">of</text>
<text x="277.20" y="20.3" font-size="15.6">R</text>
<text x="288.70" y="20.7" font-size="19.5">(</text>
<text x="295.50" y="20.3" font-size="15.6">d,</text>
<text x="312.60" y="20.3" font-size="15.6">n</text>
<text x="321.50" y="20.7" font-size="19.5">)</text>
<text x="333.40" y="20.3" font-size="15.6">under Log</text>
<text x="404.00" y="20.3" font-size="15.6">−</text>
<text x="413.00" y="20.3" font-size="15.6">Convexity</text>
<text x="481.40" y="20.3" font-size="15.6">.</text>
<rect x="134.5" y="142.9" width="103.95" height="114.1" fill="#fff" stroke="#000" stroke-width="1.1"/>
<line x1="146.0" x2="170.9" y1="159.25" y2="159.25" stroke="#FFA500" stroke-width="1"/>
<text x="184.1" y="163.2" font-size="13.4">d = Q0</text>
<line x1="146.0" x2="170.9" y1="175.61" y2="175.61" stroke="#EC8A30" stroke-width="1"/>
<text x="184.1" y="179.5" font-size="13.4">d = Q50</text>
<line x1="146.0" x2="170.9" y1="191.97" y2="191.97" stroke="#D97060" stroke-width="1"/>
<text x="184.1" y="195.9" font-size="13.4">d = Q70</text>
<line x1="146.0" x2="170.9" y1="208.33" y2="208.33" stroke="#C65590" stroke-width="1"/>
<text x="184.1" y="212.2" font-size="13.4">d = Q80</text>
<line x1="146.0" x2="170.9" y1="224.69" y2="224.69" stroke="#B33BC0" stroke-width="1"/>
<text x="184.1" y="228.6" font-size="13.4">d = Q90</text>
<line x1="146.0" x2="170.9" y1="241.05" y2="241.05" stroke="#A020F0" stroke-width="1"/>
<text x="184.1" y="245.0" font-size="13.4">d = Q95</text>
</svg></body></html>
